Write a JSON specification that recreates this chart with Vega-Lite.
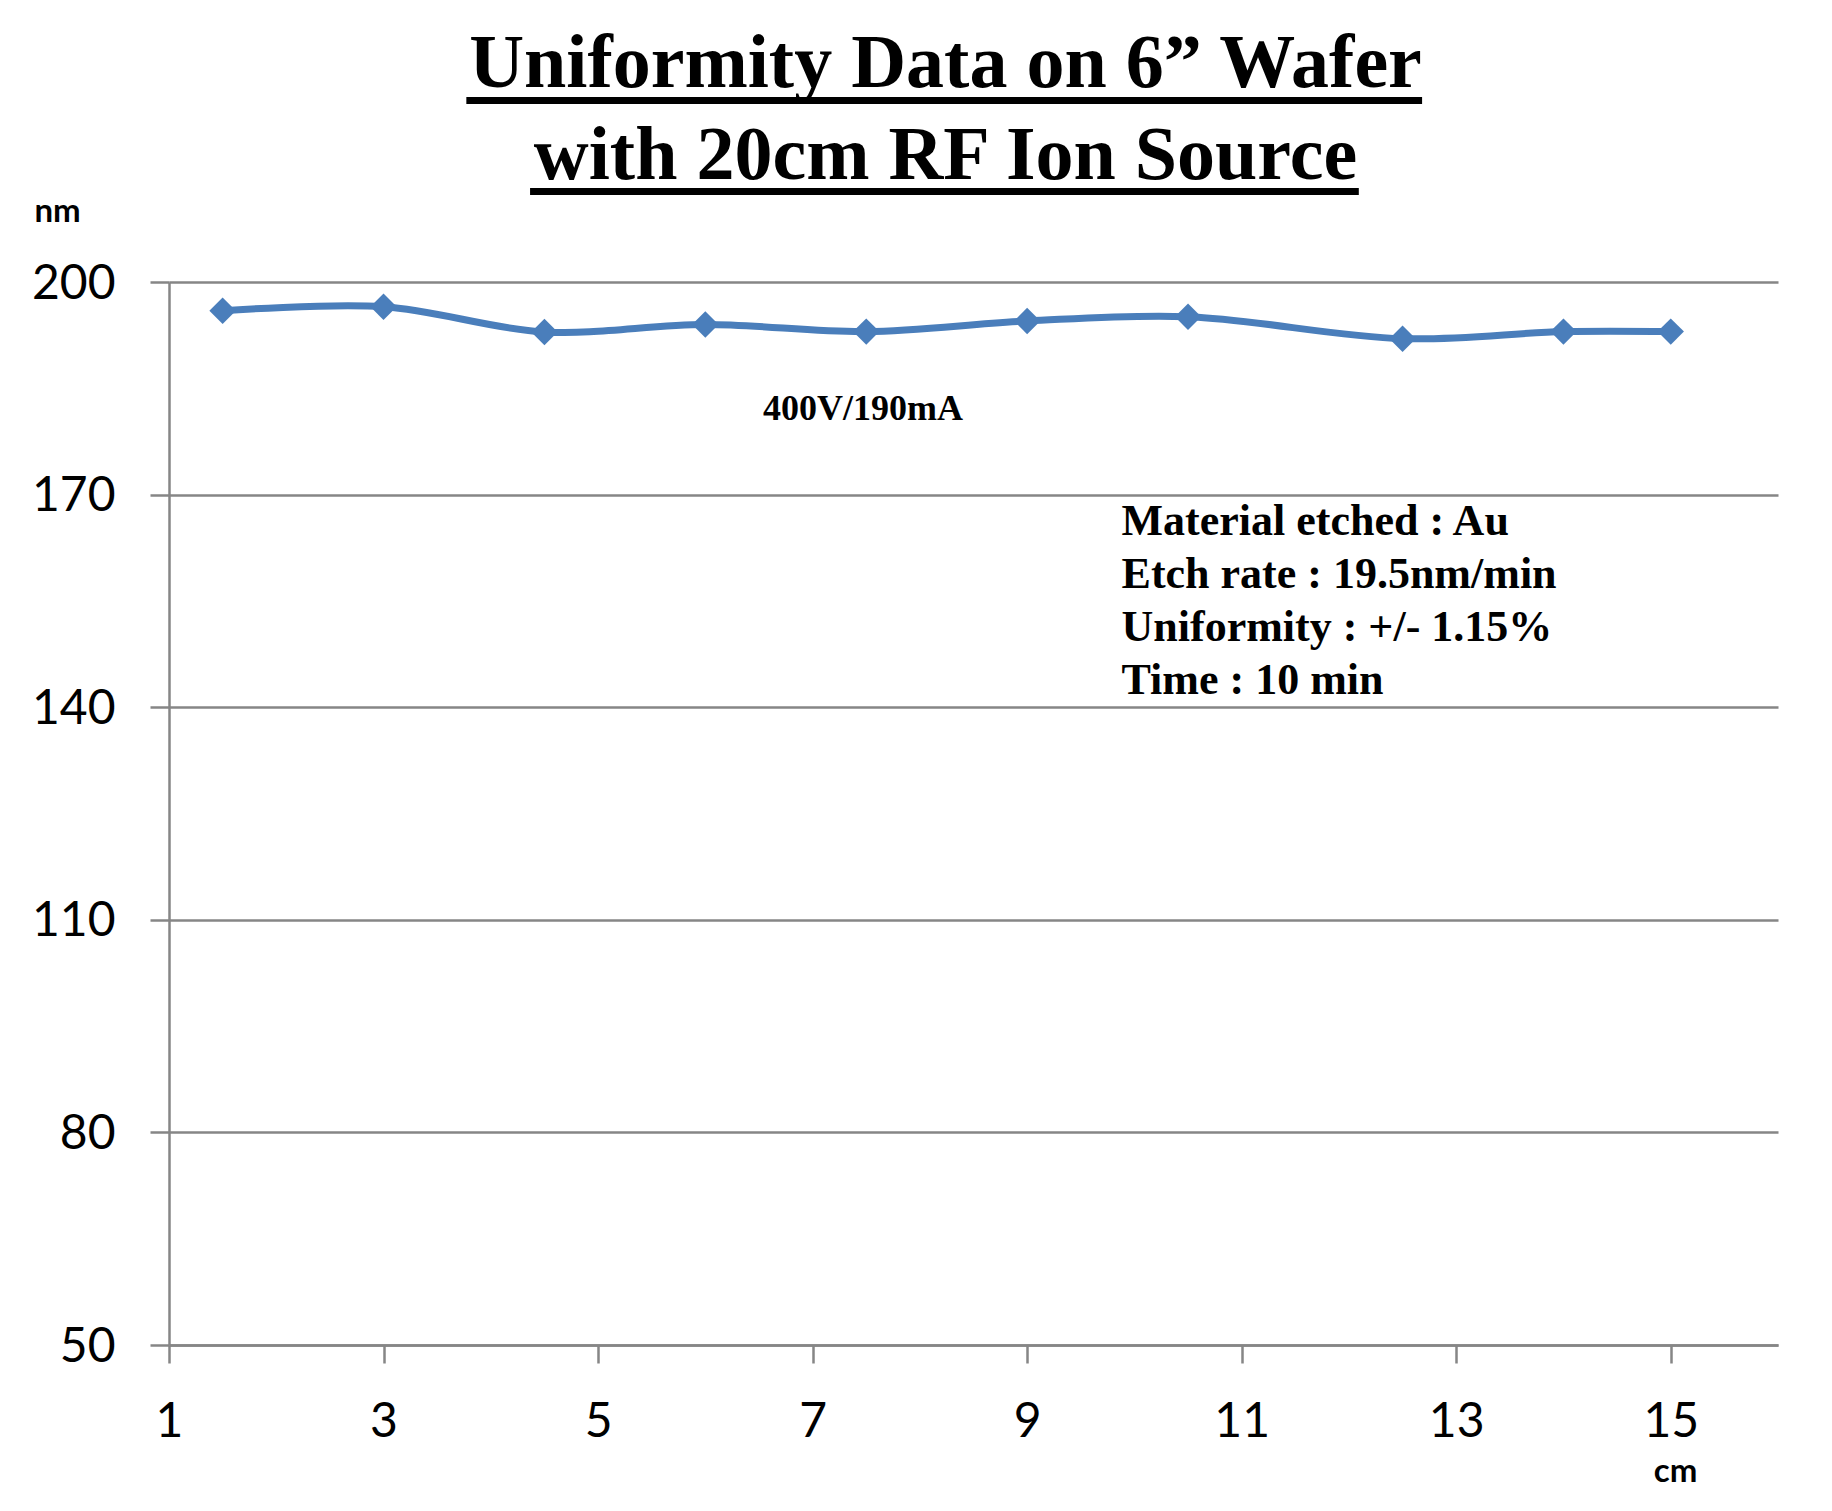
{
  "$schema": "https://vega.github.io/schema/vega-lite/v6.json",
  "width": 1609,
  "height": 1063,
  "autosize": {"type": "none"},
  "padding": {"left": 169, "top": 282, "right": 54, "bottom": 166},
  "background": "white",
  "config": {"view": {"stroke": null}},
  "title": {
    "text": ["Uniformity Data on 6\u201d Wafer", "with 20cm RF Ion Source"],
    "font": "Liberation Serif",
    "fontSize": 76,
    "fontWeight": "bold",
    "color": "black",
    "anchor": "middle",
    "frame": "group",
    "baseline": "bottom",
    "lineHeight": 92,
    "offset": -174,
    "dx": -28
  },
  "datasets": {
    "points": [
      {"x": 1.5, "y": 195.95},
      {"x": 3, "y": 196.5},
      {"x": 4.5, "y": 192.95},
      {"x": 6, "y": 194.0},
      {"x": 7.5, "y": 193.0},
      {"x": 9, "y": 194.5},
      {"x": 10.5, "y": 195.1},
      {"x": 12.5, "y": 192.0},
      {"x": 14, "y": 193.0},
      {"x": 15, "y": 193.0}
    ],
    "notes": [
      {"x": 9.88, "y": 164.31, "label": "Material etched : Au"},
      {"x": 9.88, "y": 156.83, "label": "Etch rate : 19.5nm/min"},
      {"x": 9.88, "y": 149.36, "label": "Uniformity : +/- 1.15%"},
      {"x": 9.88, "y": 141.88, "label": "Time : 10 min"}
    ],
    "cond": [
      {"x": 7.47, "y": 180.53, "label": "400V/190mA"}
    ],
    "underline": [
      {"x": 3.772, "x2": 12.682, "y": 225.6},
      {"x": 4.366, "x2": 12.092, "y": 212.77}
    ]
  },
  "encoding": {
    "x": {
      "field": "x",
      "type": "quantitative",
      "scale": {"domain": [1, 16], "nice": false, "zero": false},
      "axis": {
        "values": [1, 3, 5, 7, 9, 11, 13, 15],
        "grid": false,
        "domainColor": "#868686",
        "domainWidth": 2.5,
        "tickColor": "#868686",
        "tickWidth": 2.5,
        "tickSize": 18,
        "labelFont": "Lato",
        "labelFontSize": 48,
        "labelColor": "black",
        "labelPadding": 35,
        "labelFlush": false,
        "title": "cm",
        "titleFont": "Lato",
        "titleFontSize": 33,
        "titleFontWeight": "bold",
        "titleColor": "black",
        "titleX": 1506,
        "titleY": 126,
        "titleAlign": "center",
        "titleBaseline": "middle",
        "titleAngle": 0
      }
    },
    "y": {
      "field": "y",
      "type": "quantitative",
      "scale": {"domain": [50, 200], "nice": false, "zero": false},
      "axis": {
        "values": [50, 80, 110, 140, 170, 200],
        "grid": true,
        "gridColor": "#868686",
        "gridWidth": 2.5,
        "domainColor": "#868686",
        "domainWidth": 2.5,
        "tickColor": "#868686",
        "tickWidth": 2.5,
        "tickSize": 19,
        "labelFont": "Lato",
        "labelFontSize": 48,
        "labelColor": "black",
        "labelPadding": 35,
        "labelFlush": false,
        "labelOffset": 2,
        "title": "nm",
        "titleFont": "Lato",
        "titleFontSize": 33,
        "titleFontWeight": "bold",
        "titleColor": "black",
        "titleX": -112,
        "titleY": -71,
        "titleAlign": "center",
        "titleBaseline": "middle",
        "titleAngle": 0
      }
    }
  },
  "layer": [
    {
      "data": {"name": "points"},
      "mark": {
        "type": "line",
        "color": "#4A7EBB",
        "strokeWidth": 7,
        "interpolate": "catmull-rom",
        "point": {"filled": true, "shape": "diamond", "size": 700, "color": "#4A7EBB", "opacity": 1}
      }
    },
    {
      "data": {"name": "cond"},
      "mark": {
        "type": "text",
        "font": "Liberation Serif",
        "fontWeight": "bold",
        "fontSize": 36,
        "color": "black",
        "align": "center",
        "baseline": "alphabetic"
      },
      "encoding": {"text": {"field": "label", "type": "nominal"}}
    },
    {
      "data": {"name": "notes"},
      "mark": {
        "type": "text",
        "font": "Liberation Serif",
        "fontWeight": "bold",
        "fontSize": 44,
        "color": "black",
        "align": "left",
        "baseline": "alphabetic"
      },
      "encoding": {"text": {"field": "label", "type": "nominal"}}
    },
    {
      "data": {"name": "underline"},
      "mark": {"type": "rule", "color": "black", "strokeWidth": 7},
      "encoding": {
        "x2": {"field": "x2"}
      }
    }
  ]
}
